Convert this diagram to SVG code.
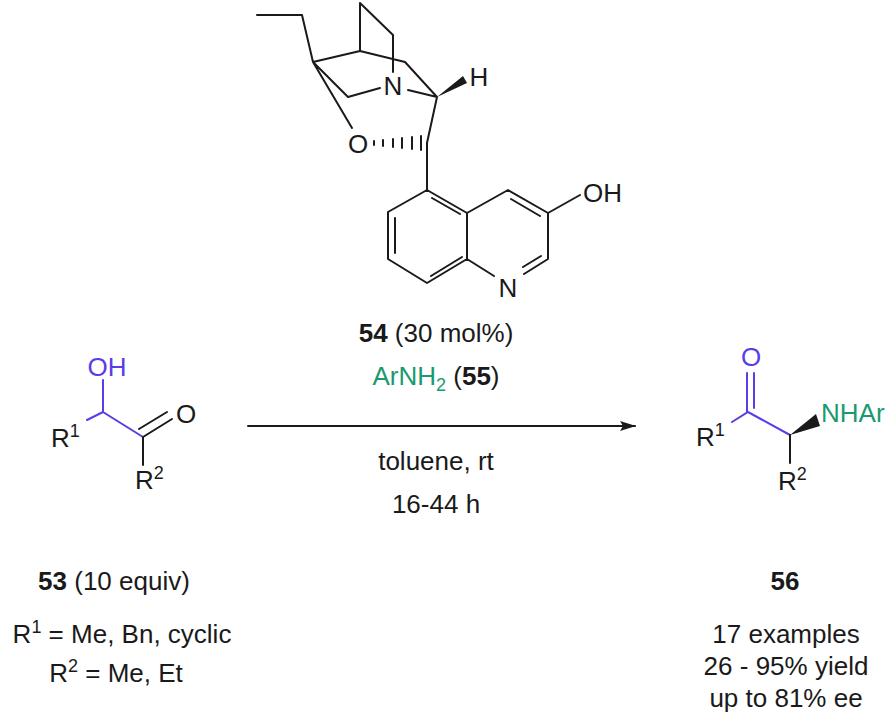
<svg xmlns="http://www.w3.org/2000/svg" width="891" height="716" viewBox="0 0 891 716">
<style>
text{font-family:"Liberation Sans",Arial,sans-serif;font-size:26px;fill:#1a1a1a}
.b{stroke:#1a1a1a;stroke-width:2;fill:none;stroke-linecap:round;stroke-linejoin:round}
.p{stroke:#5a3de6;stroke-width:2;fill:none;stroke-linecap:round}
.c{text-anchor:middle}
.bl{fill:#5a3de6}.g{fill:#1a9a6e}
.s{font-size:18px}
</style>
<defs><marker id="ah" markerWidth="16" markerHeight="10" refX="15" refY="5" orient="auto" markerUnits="userSpaceOnUse"><path d="M0,0 L16,5 L0,10 L3,5z" fill="#1a1a1a"/></marker></defs>
<g id="catalyst">
<path class="b" d="M257,15 L302,15 L313,62 L360,51 L360,3 L393,35 L393,72 M360,51 L405,62 L437,97 M313,62 L348,97 L380,88 M408,90 L437,97 L427,143 L427,190 M313,62 L352,128"/>
<path d="M437,97 L463,76 L467,83z" fill="#1a1a1a"/>
<g class="b"><path d="M374,141v4M383,140v6M393,139v8M402,138v10M412,137v12M421,136v14"/></g>
<path class="b" d="M427,190 L388,212 L388,259 L427,283 L467,259 L467,213 L427,190 M467,213 L508,190 L548,213 L548,259 L524,274 M494,276 L467,259 M548,213 L580,195 M395,218 L395,253 M431,276 L462,257 M432,198 L460,214 M511,199 L540,216 M523,267 L541,256"/>
<text x="393" y="95" class="c">N</text>
<text x="479" y="86" class="c">H</text>
<text x="358" y="153" class="c">O</text>
<text x="508" y="297" class="c">N</text>
<text x="583" y="202">OH</text>
</g>
<g id="reactant">
<path class="p" d="M103,380 L103,412 L143,437 M87,420 L103,412"/>
<path class="b" d="M143,437 L172,419 M139,429 L167,412 M143,437 L143,465"/>
<text x="107" y="376" class="c bl">OH</text>
<text x="186" y="423" class="c">O</text>
<text x="51" y="447">R<tspan dy="-10" class="s">1</tspan></text>
<text x="135" y="489">R<tspan dy="-10" class="s">2</tspan></text>
</g>
<g id="product">
<path class="p" d="M747,373 L747,412 M754,373 L754,408 M732,422 L748,412 L790,435"/>
<path d="M790,435 L816,414 L820,426z" fill="#1a1a1a"/>
<path class="b" d="M790,435 L790,463"/>
<text x="751" y="366" class="c bl">O</text>
<text x="821" y="422" class="g">NHAr</text>
<text x="696" y="446">R<tspan dy="-10" class="s">1</tspan></text>
<text x="778" y="490">R<tspan dy="-10" class="s">2</tspan></text>
</g>
<g id="connectors"><path class="b" d="M248,426 L635,426" marker-end="url(#ah)"/></g>
<g id="labels">
<text x="436" y="342" class="c"><tspan font-weight="bold">54</tspan> (30 mol%)</text>
<text x="436" y="385" class="c"><tspan class="g">ArNH<tspan dy="6" class="s">2</tspan></tspan><tspan dy="-6"> (</tspan><tspan font-weight="bold">55</tspan>)</text>
<text x="436" y="470" class="c">toluene, rt</text>
<text x="436" y="513" class="c">16-44 h</text>
<text x="114" y="590" class="c"><tspan font-weight="bold">53</tspan> (10 equiv)</text>
<text x="122" y="643" class="c">R<tspan dy="-10" class="s">1</tspan><tspan dy="10"> = Me, Bn, cyclic</tspan></text>
<text x="116" y="682" class="c">R<tspan dy="-10" class="s">2</tspan><tspan dy="10"> = Me, Et</tspan></text>
<text x="785" y="590" class="c" font-weight="bold">56</text>
<text x="786" y="643" class="c">17 examples</text>
<text x="786" y="675" class="c">26 - 95% yield</text>
<text x="786" y="707" class="c">up to 81% ee</text>
</g>
</svg>
